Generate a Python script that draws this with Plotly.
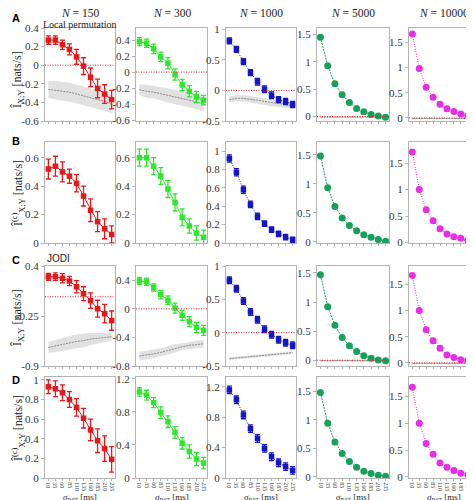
import plotly.graph_objects as go
from plotly.subplots import make_subplots

W, H = 474, 500

SIGMA_PAT = [10, 35, 60, 85, 110, 135, 160, 185, 210, 235]
N_VALUES = [150, 300, 1000, 5000, 10000]
ROWS = ["A", "B", "C", "D"]

# estimated transfer entropy rates per row / N
EST_A = {
    150: [0.27, 0.27, 0.22, 0.17, 0.09, -0.01, -0.13, -0.25, -0.31, -0.37],
    300: [0.38, 0.36, 0.29, 0.19, 0.11, -0.03, -0.16, -0.24, -0.31, -0.35],
    1000: [0.81, 0.67, 0.47, 0.29, 0.14, 0.02, -0.08, -0.15, -0.18, -0.23],
    5000: [1.45, 0.93, 0.60, 0.40, 0.26, 0.15, 0.09, 0.04, 0.01, -0.01],
    10000: [1.66, 0.98, 0.61, 0.41, 0.27, 0.18, 0.13, 0.08, 0.05, 0.02],
}
ERR_A = {
    150: [0.045, 0.045, 0.05, 0.06, 0.08, 0.09, 0.1, 0.1, 0.1, 0.1],
    300: [0.05, 0.05, 0.06, 0.06, 0.07, 0.07, 0.07, 0.07, 0.07, 0.06],
    1000: [0.05, 0.05, 0.05, 0.05, 0.055, 0.055, 0.055, 0.05, 0.05, 0.05],
    5000: [0.02, 0.02, 0.015, 0.015, 0.01, 0.01, 0.01, 0.01, 0.01, 0.01],
    10000: [0.02, 0.015, 0.015, 0.01, 0.01, 0.01, 0.01, 0.01, 0.01, 0.01],
}
EST_B = {
    150: [0.52, 0.54, 0.50, 0.47, 0.42, 0.33, 0.23, 0.15, 0.10, 0.06],
    300: [0.60, 0.60, 0.54, 0.47, 0.38, 0.285, 0.18, 0.12, 0.07, 0.04],
    1000: [0.92, 0.77, 0.58, 0.42, 0.29, 0.21, 0.145, 0.10, 0.065, 0.035],
    5000: [1.48, 0.93, 0.61, 0.41, 0.28, 0.19, 0.12, 0.08, 0.04, 0.01],
    10000: [1.71, 1.00, 0.62, 0.41, 0.26, 0.16, 0.11, 0.08, 0.04, 0.01],
}
ERR_B = {
    150: [0.07, 0.07, 0.07, 0.05, 0.06, 0.07, 0.08, 0.07, 0.07, 0.06],
    300: [0.06, 0.06, 0.06, 0.06, 0.06, 0.06, 0.06, 0.05, 0.05, 0.05],
    1000: [0.04, 0.04, 0.04, 0.035, 0.035, 0.03, 0.03, 0.03, 0.03, 0.03],
    5000: [0.02, 0.02, 0.015, 0.015, 0.01, 0.01, 0.01, 0.01, 0.01, 0.01],
    10000: [0.02, 0.015, 0.015, 0.01, 0.01, 0.01, 0.01, 0.01, 0.01, 0.01],
}
EST_C = {
    150: [0.26, 0.26, 0.24, 0.205, 0.13, 0.04, -0.05, -0.155, -0.22, -0.31],
    300: [0.39, 0.38, 0.30, 0.20, 0.12, 0.01, -0.09, -0.18, -0.26, -0.30],
    1000: [0.785, 0.66, 0.475, 0.31, 0.195, 0.05, -0.03, -0.105, -0.15, -0.19],
    5000: [1.47, 0.92, 0.60, 0.39, 0.25, 0.15, 0.075, 0.035, 0.005, -0.01],
    10000: [1.67, 1.00, 0.63, 0.42, 0.28, 0.15, 0.10, 0.06, 0.05, 0.03],
}
ERR_C = {
    150: [0.045, 0.05, 0.06, 0.06, 0.08, 0.09, 0.1, 0.11, 0.12, 0.125],
    300: [0.05, 0.05, 0.05, 0.06, 0.06, 0.07, 0.07, 0.07, 0.07, 0.07],
    1000: [0.05, 0.05, 0.05, 0.05, 0.05, 0.05, 0.05, 0.05, 0.05, 0.05],
    5000: [0.02, 0.02, 0.015, 0.015, 0.01, 0.01, 0.01, 0.01, 0.01, 0.01],
    10000: [0.02, 0.015, 0.015, 0.01, 0.01, 0.01, 0.01, 0.01, 0.01, 0.01],
}
EST_D = {
    150: [0.93, 0.91, 0.87, 0.80, 0.72, 0.61, 0.49, 0.38, 0.30, 0.19],
    300: [1.04, 1.00, 0.91, 0.79, 0.68, 0.55, 0.42, 0.32, 0.23, 0.18],
    1000: [1.16, 1.03, 0.83, 0.65, 0.52, 0.39, 0.28, 0.20, 0.15, 0.10],
    5000: [1.48, 0.94, 0.61, 0.41, 0.27, 0.17, 0.10, 0.06, 0.03, 0.01],
    10000: [1.67, 1.00, 0.62, 0.42, 0.26, 0.18, 0.12, 0.07, 0.04, 0.02],
}
ERR_D = {
    150: [0.07, 0.08, 0.08, 0.08, 0.09, 0.1, 0.11, 0.12, 0.13, 0.13],
    300: [0.05, 0.06, 0.06, 0.07, 0.07, 0.07, 0.07, 0.08, 0.08, 0.07],
    1000: [0.05, 0.05, 0.05, 0.05, 0.05, 0.05, 0.05, 0.05, 0.05, 0.05],
    5000: [0.03, 0.03, 0.03, 0.025, 0.02, 0.02, 0.015, 0.015, 0.01, 0.01],
    10000: [0.03, 0.02, 0.02, 0.015, 0.015, 0.01, 0.01, 0.01, 0.01, 0.01],
}

# surrogate (null) distribution: mean and half width of the gray band
NULL_MEAN_A = {
    150: [-0.26, -0.27, -0.28, -0.29, -0.31, -0.33, -0.35, -0.37, -0.39, -0.42],
    300: [-0.22, -0.24, -0.25, -0.27, -0.29, -0.31, -0.33, -0.35, -0.37, -0.40],
    1000: [-0.15, -0.13, -0.13, -0.14, -0.16, -0.18, -0.20, -0.22, -0.24, -0.25],
    5000: [-0.01] * 10,
    10000: [-0.01] * 10,
}
NULL_HW_A = {
    150: [0.09, 0.1, 0.1, 0.1, 0.1, 0.1, 0.1, 0.1, 0.1, 0.1],
    300: [0.07, 0.08, 0.08, 0.08, 0.09, 0.09, 0.09, 0.09, 0.09, 0.09],
    1000: [0.05, 0.05, 0.05, 0.05, 0.06, 0.06, 0.06, 0.06, 0.05, 0.05],
    5000: [0.012] * 10,
    10000: [0.01] * 10,
}
NULL_MEAN_C = {
    150: [-0.66, -0.64, -0.62, -0.60, -0.58, -0.57, -0.55, -0.54, -0.53, -0.52],
    300: [-0.66, -0.65, -0.63, -0.61, -0.58, -0.55, -0.53, -0.51, -0.50, -0.49],
    1000: [-0.39, -0.38, -0.37, -0.36, -0.35, -0.34, -0.33, -0.32, -0.31, -0.30],
    5000: [-0.01] * 10,
    10000: [-0.01] * 10,
}
NULL_HW_C = {
    150: [0.07, 0.08, 0.09, 0.09, 0.09, 0.09, 0.08, 0.07, 0.06, 0.05],
    300: [0.06, 0.06, 0.06, 0.06, 0.06, 0.06, 0.05, 0.05, 0.05, 0.05],
    1000: [0.02] * 10,
    5000: [0.012] * 10,
    10000: [0.01] * 10,
}

Y_RANGES = {
    "A": {150: [-0.6, 0.4], 300: [-0.61, 0.55], 1000: [-0.5, 1.02], 5000: [-0.08, 1.62], 10000: [-0.06, 1.78]},
    "B": {150: [0, 0.71], 300: [0, 0.71], 1000: [0, 1.1], 5000: [-0.02, 1.72], 10000: [-0.01, 1.9]},
    "C": {150: [-0.9, 0.4], 300: [-0.8, 0.6], 1000: [-0.5, 1.0], 5000: [-0.1, 1.62], 10000: [-0.06, 1.85]},
    "D": {150: [0, 1.03], 300: [0, 1.22], 1000: [0, 1.33], 5000: [-0.02, 1.75], 10000: [-0.02, 1.86]},
}
Y_TICKS = {
    "A": {150: [-0.6, -0.4, -0.2, 0, 0.2, 0.4], 300: [-0.6, -0.4, -0.2, 0, 0.2, 0.4],
          1000: [-0.5, 0, 0.5, 1], 5000: [0, 0.5, 1, 1.5], 10000: [0, 0.5, 1, 1.5]},
    "B": {150: [0, 0.2, 0.4, 0.6], 300: [0, 0.2, 0.4, 0.6], 1000: [0, 0.2, 0.4, 0.6, 0.8, 1],
          5000: [0, 0.5, 1, 1.5], 10000: [0, 0.5, 1, 1.5]},
    "C": {150: [-0.9, -0.25, 0.4], 300: [-0.8, -0.4, 0, 0.4], 1000: [-0.5, 0, 0.5, 1],
          5000: [0, 0.5, 1, 1.5], 10000: [0, 0.5, 1, 1.5]},
    "D": {150: [0, 0.2, 0.4, 0.6, 0.8, 1], 300: [0, 0.4, 0.8, 1.2], 1000: [0, 0.4, 0.8, 1.2],
          5000: [0, 0.5, 1, 1.5], 10000: [0, 0.5, 1, 1.5]},
}

EST = {"A": EST_A, "B": EST_B, "C": EST_C, "D": EST_D}
ERR = {"A": ERR_A, "B": ERR_B, "C": ERR_C, "D": ERR_D}
NULL = {"A": (NULL_MEAN_A, NULL_HW_A), "C": (NULL_MEAN_C, NULL_HW_C)}

COLORS = {150: "#e3191c", 300: "#2ee62e", 1000: "#1414c8", 5000: "#18a05a", 10000: "#e62ee6"}
LINE_DASH = {150: "solid", 300: "solid", 1000: "1px,1.5px", 5000: "2px,1px", 10000: "1px,1.5px"}

# pixel boxes of the panels
COL_PX = [(37, 107), (128, 199), (218, 288), (309, 381), (401, 470)]
ROW_PX = [(20, 113), (134, 235), (258, 358), (369, 470)]

SERIF = "Liberation Serif"
SANS = "Liberation Sans"
FRAME = "#b4b4b4"


def fmt(v):
    if v == 0:
        return "0"
    if float(v).is_integer():
        return str(int(v))
    return "%g" % v


def note(px, py, text, size, family=SERIF, angle=0, xanchor="center", color="#222"):
    return dict(
        x=px / W, y=1 - py / H, xref="paper", yref="paper", showarrow=False,
        xanchor=xanchor, yanchor="middle", textangle=angle, text=text,
        font=dict(family=family, size=size, color=color),
    )


fig = make_subplots(rows=4, cols=5)

for r, row in enumerate(ROWS):
    for c, n in enumerate(N_VALUES):
        color = COLORS[n]
        if row in NULL:
            mean = NULL[row][0][n]
            hw = NULL[row][1][n]
            upper = [m + h for m, h in zip(mean, hw)]
            lower = [m - h for m, h in zip(mean, hw)]
            fig.add_trace(
                go.Scatter(x=SIGMA_PAT + SIGMA_PAT[::-1], y=upper + lower[::-1],
                           fill="toself", fillcolor="rgba(205,205,205,0.6)",
                           line=dict(width=0), mode="lines", showlegend=False,
                           hoverinfo="skip"),
                row=r + 1, col=c + 1,
            )
            fig.add_trace(
                go.Scatter(x=SIGMA_PAT, y=mean, mode="lines",
                           line=dict(color="#8a8a8a", width=1, dash="2px,1px"),
                           showlegend=False, hoverinfo="skip"),
                row=r + 1, col=c + 1,
            )
            fig.add_hline(y=0, line=dict(color="#e02020", width=1, dash="1px,1.5px"),
                          row=r + 1, col=c + 1)
        square = n in (150, 300, 1000)
        fig.add_trace(
            go.Scatter(
                x=SIGMA_PAT, y=EST[row][n], mode="lines+markers",
                line=dict(color=color, width=1, dash=LINE_DASH[n]),
                marker=dict(color=color, size=5.5 if square else 7,
                            symbol="square" if square else "circle"),
                error_y=dict(type="data", array=ERR[row][n], color=color,
                             thickness=1.3, width=2.5),
                showlegend=False,
                hovertemplate="σ=%{x} ms<br>%{y:.3f} nats/s<extra></extra>",
            ),
            row=r + 1, col=c + 1,
        )

        idx = r * 5 + c + 1
        x0, x1 = COL_PX[c]
        y0, y1 = ROW_PX[r]
        ticks_y = Y_TICKS[row][n]
        fig.update_layout({
            f"xaxis{idx}": dict(
                domain=[x0 / W, x1 / W], range=[-2, 247], automargin=False,
                tickvals=SIGMA_PAT, ticktext=[str(v) for v in SIGMA_PAT],
                showticklabels=(row == "D"), tickangle=90,
                tickfont=dict(family=SERIF, size=6, color="#333"),
                ticks="outside", ticklen=2, tickcolor=FRAME,
                showline=True, mirror=True, linecolor=FRAME, linewidth=1.2,
                showgrid=False, zeroline=False,
            ),
            f"yaxis{idx}": dict(
                domain=[1 - y1 / H, 1 - y0 / H], range=Y_RANGES[row][n], automargin=False,
                tickvals=ticks_y, ticktext=[fmt(v) for v in ticks_y],
                tickfont=dict(family=SERIF, size=11, color="#333"),
                ticks="outside", ticklen=3, tickcolor=FRAME,
                showline=True, mirror=True, linecolor=FRAME, linewidth=1.2,
                showgrid=False, zeroline=False,
            ),
        })

annotations = []
for c, n in enumerate(N_VALUES):
    cx = (COL_PX[c][0] + COL_PX[c][1]) / 2
    annotations.append(note(cx, 5, f"<i>N</i> = {n}", 11.5))
    annotations.append(note(cx, 489, "<i>σ</i><sub>PAT</sub> [ms]", 9))

Y_TITLES = [
    "Î<sub>X;Y</sub> [nats/s]",
    "Î<sup>(c)</sup><sub>X;Y</sub> [nats/s]",
    "Î<sub>X;Y</sub> [nats/s]",
    "Î<sup>(c)</sup><sub>X;Y</sub> [nats/s]",
]
TITLE_Y = [72, 185, 310, 420]
LETTER_Y = [10, 133, 252, 372]
for r, title in enumerate(Y_TITLES):
    annotations.append(note(10, TITLE_Y[r], title, 12, angle=-90))
    annotations.append(note(8, LETTER_Y[r], f"<b>{ROWS[r]}</b>", 11, family=SANS, color="#000"))

annotations.append(note(72, 16, "Local permutation", 10))
annotations.append(note(37, 250, "JODI", 10, family=SANS, xanchor="left"))

fig.update_layout(
    width=W, height=H,
    margin=dict(l=0, r=0, t=0, b=0, autoexpand=False),
    font=dict(family=SERIF),
    paper_bgcolor="#ffffff", plot_bgcolor="#ffffff",
    showlegend=False,
    annotations=annotations,
)

fig.write_html("out.html")
